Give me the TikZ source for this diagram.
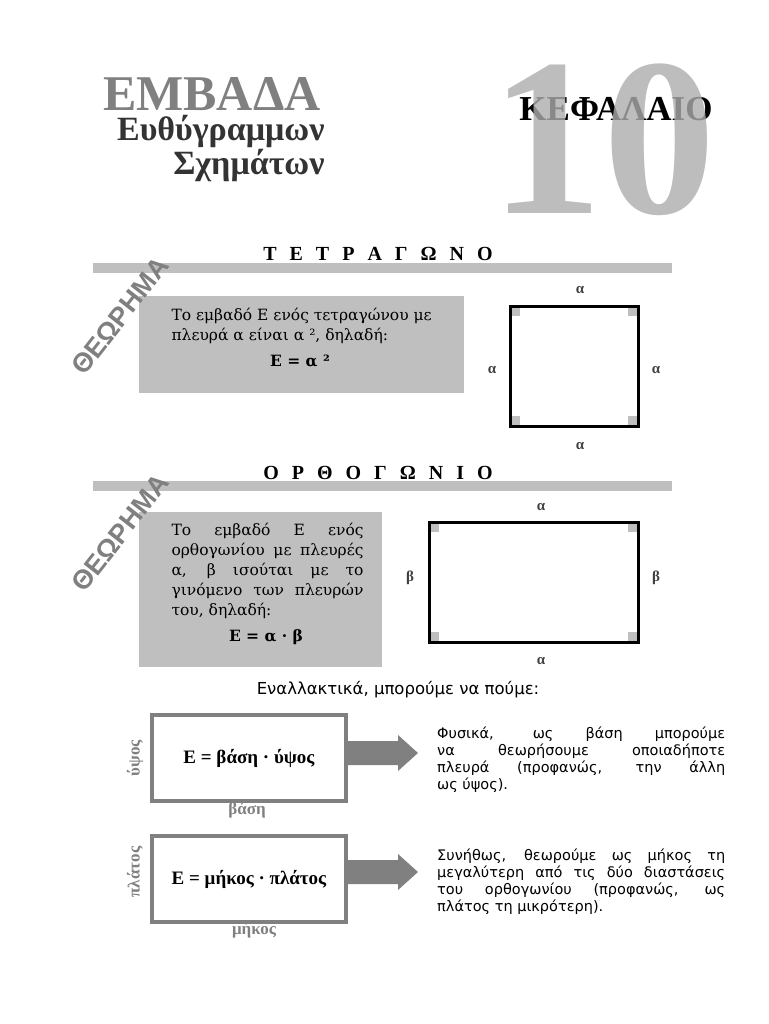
\documentclass[tikz,border=0pt]{standalone}
\usepackage{fontspec}
\setmainfont{Liberation Serif}
\setsansfont{Liberation Sans}
\newfontfamily\boxfont{DejaVu Serif}
\newfontfamily\notefont{DejaVu Sans}
\usetikzlibrary{positioning}
\definecolor{bargray}{gray}{0.75}
\definecolor{titlegray}{gray}{0.5}
\newcommand{\gap}{\hspace{13pt}}
\tikzset{
	theorem/.style={font=\sffamily\bfseries\fontsize{27}{27}\selectfont,text=titlegray,rotate=52},
	thmbox/.style={fill=bargray,draw=none},
	side/.style={font=\bfseries\fontsize{15}{15}\selectfont,text=black!75},
	dimlabel/.style={font=\bfseries\fontsize{17}{17}\selectfont,text=titlegray},
	formulabox/.style={draw=titlegray,line width=4pt,minimum width=194pt,minimum height=86pt,font=\bfseries\fontsize{19}{19}\selectfont},
	bigarrow/.style={fill=titlegray},
	note/.style={font=\notefont\fontsize{14.5}{17}\selectfont,text width=288pt,align=justify,anchor=north west,inner sep=0pt}
}
\begin{document}
\begin{tikzpicture}[x=1pt,y=-1pt]
	\useasboundingbox (0,0) rectangle (768,1024);
	% header
	\node[font=\bfseries\fontsize{50}{50}\selectfont,text=titlegray,anchor=east] (embada) at (324,94) {ΕΜΒΑΔΑ};
	\node[font=\bfseries\fontsize{34}{29}\selectfont,text=black!80,align=right,anchor=north east] (subtitle) at (328,112) {Ευθύγραμμων\\Σχημάτων};
	\node[font=\bfseries\fontsize{35}{35}\selectfont] (kef) at (616,109) {ΚΕΦΑΛΑΙΟ};
	\node[font=\bfseries\fontsize{225}{225}\selectfont,text=gray!65,fill opacity=0.8,text opacity=0.8] (ten) at (603,140) {10};
	% square
	\node[font=\bfseries\fontsize{20}{20}\selectfont] (title1) at (378,254) {Τ\gap Ε\gap Τ\gap Ρ\gap Α\gap Γ\gap Ω\gap Ν\gap Ο};
	\fill[bargray] (93,263) rectangle (672,273);
	\fill[thmbox] (139,296) rectangle (464,393);
	\node[theorem] (thm1) at (120,316) {ΘΕΩΡΗΜΑ};
	\node[anchor=north west,font=\boxfont\fontsize{15.5}{20}\selectfont,align=left] (txt1) at (168,305) {Το εμβαδό Ε ενός τετραγώνου με\\πλευρά α είναι α ², δηλαδή:};
	\node[font=\boxfont\bfseries\fontsize{15.5}{16}\selectfont] (form1) at (300,361) {Ε = α ²};
	\foreach \x/\y in {510/306,628/306,510/416,628/416} \fill[bargray] (\x,\y) rectangle +(10,10);
	\draw[line width=3pt] (510,306) rectangle (638,426);
	\node[side] at (580,290) {α};
	\node[side] at (492,370) {α};
	\node[side] at (656,370) {α};
	\node[side] at (580,446) {α};
	% rectangle
	\node[font=\bfseries\fontsize{20}{20}\selectfont] (title2) at (378,473) {Ο\gap Ρ\gap Θ\gap Ο\gap Γ\gap Ω\gap Ν\gap Ι\gap Ο};
	\fill[bargray] (93,481) rectangle (672,491);
	\fill[thmbox] (139,512) rectangle (382,667);
	\node[theorem] (thm2) at (120,533) {ΘΕΩΡΗΜΑ};
	\node[anchor=north west,font=\boxfont\fontsize{15.5}{20}\selectfont,text width=192pt,align=justify] (txt2) at (168,520) {Το εμβαδό Ε ενός ορθογωνίου με πλευρές α, β ισούται με το γινόμενο των πλευρών του, δηλαδή:};
	\node[font=\boxfont\bfseries\fontsize{15.5}{16}\selectfont] (form2) at (266,637) {Ε = α · β};
	\foreach \x/\y in {429/522,628/522,429/632,628/632} \fill[bargray] (\x,\y) rectangle +(10,10);
	\draw[line width=3pt] (429,522) rectangle (638,642);
	\node[side] at (541,507) {α};
	\node[side] at (410,578) {β};
	\node[side] at (656,578) {β};
	\node[side] at (541,661) {α};
	\node[font=\notefont\fontsize{16.5}{16}\selectfont] (alt) at (398,690) {Εναλλακτικά, μπορούμε να πούμε:};
	% formulas
	\node[formulabox] (box1) at (249,758) {Ε = βάση · ύψος};
	\fill[bigarrow] ([yshift=17pt]box1.east) -- ++(50,0) -- ++(0,-6) -- ++(20,18) -- ++(-20,18) -- ++(0,-6) -- ++(-50,0) -- cycle;
	\node[dimlabel,rotate=90] at (135,758) {ύψος};
	\node[dimlabel] at (247,810) {βάση};
	\node[note] (note1) at (437,727) {Φυσικά, ως βάση μπορούμε\linebreak να θεωρήσουμε οποιαδήποτε\linebreak πλευρά (προφανώς, την άλλη\linebreak ως ύψος).};
	\node[formulabox] (box2) at (249,879) {Ε = μήκος · πλάτος};
	\fill[bigarrow] ([yshift=19pt]box2.east) -- ++(50,0) -- ++(0,-6) -- ++(20,18) -- ++(-20,18) -- ++(0,-6) -- ++(-50,0) -- cycle;
	\node[dimlabel,rotate=90] at (135,872) {πλάτος};
	\node[dimlabel] at (254,930) {μήκος};
	\node[note] (note2) at (437,849) {Συνήθως, θεωρούμε ως μήκος τη\linebreak μεγαλύτερη από τις δύο διαστάσεις\linebreak του ορθογωνίου (προφανώς, ως\linebreak πλάτος τη μικρότερη).};
\end{tikzpicture}
\end{document}
